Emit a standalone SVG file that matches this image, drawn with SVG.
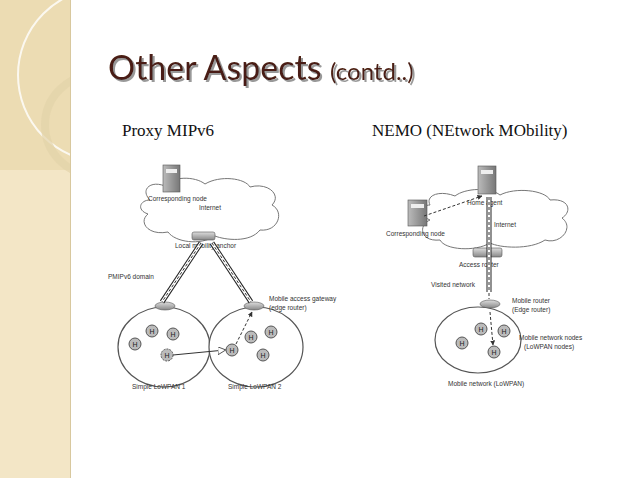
<svg xmlns="http://www.w3.org/2000/svg" width="638" height="478" viewBox="0 0 638 478">
<defs>
<linearGradient id="srv" x1="0" x2="1"><stop offset="0" stop-color="#bbb"/><stop offset="1" stop-color="#777"/></linearGradient>
<linearGradient id="rt" x1="0" y1="0" x2="0" y2="1"><stop offset="0" stop-color="#ddd"/><stop offset="1" stop-color="#888"/></linearGradient>
<marker id="tri" viewBox="0 0 10 10" refX="9" refY="5" markerWidth="8" markerHeight="8" orient="auto"><path d="M0,0L10,5L0,10z" fill="#fff" stroke="#333"/></marker>
<marker id="ah" viewBox="0 0 10 10" refX="9" refY="5" markerWidth="5" markerHeight="5" orient="auto"><path d="M0,0L10,5L0,10z" fill="#333"/></marker>
<clipPath id="strip"><rect width="70" height="478"/></clipPath>
<filter id="sh" x="-5%" y="-20%" width="110%" height="140%"><feDropShadow dx="2" dy="2" stdDeviation="0.6" flood-color="#999"/></filter>
</defs>
<style>
.t{font-family:"Liberation Sans",Arial,sans-serif;font-size:6.5px;fill:#333}
.sub{font-family:"Liberation Serif","Times New Roman",serif;font-size:17px;fill:#111}
.cloud{fill:#fff;stroke:#777;stroke-width:1}
.ell{fill:#fff;stroke:#555;stroke-width:1.2}
.h{fill:#bbb;stroke:#555;stroke-width:1}
.ht{font-family:"Liberation Sans",sans-serif;font-size:7px;fill:#222;text-anchor:middle}
.tun{fill:none;stroke:#222;stroke-width:5}
.tun2{fill:none;stroke:#fff;stroke-width:3}
.tun3{fill:none;stroke:#333;stroke-width:1;stroke-dasharray:3 2}
.dash{fill:none;stroke:#333;stroke-width:1;stroke-dasharray:3 2}
</style>
<rect width="638" height="478" fill="#fff"/>
<rect width="70" height="478" fill="#f3e6c6"/>
<rect width="70" height="170" fill="#ecdcb3"/>
<g clip-path="url(#strip)">
<circle cx="105" cy="75" r="87" fill="none" stroke="#fff" stroke-width="2" opacity="0.8"/>
<circle cx="95" cy="125" r="50" fill="none" stroke="#e3d3aa" stroke-width="8" opacity="0.7"/>
</g>
<line x1="70.5" y1="0" x2="70.5" y2="478" stroke="#d8c89e"/>
<text x="108" y="80" font-family="Lato,'DejaVu Sans',sans-serif" font-size="34" fill="#4a1f12" filter="url(#sh)">Other Aspects <tspan font-size="24">(contd..)</tspan></text>
<text class="sub" x="122" y="136">Proxy MIPv6</text>
<text class="sub" x="372" y="136">NEMO (NEtwork MObility)</text>

<g id="left-cloud"><path class="cloud" d="M150,200 C140,190 150,180 165,186 C172,176 195,176 205,184 C220,175 245,178 250,187 C268,182 282,195 272,205 C285,212 278,232 260,230 C250,243 225,240 215,236 C200,246 175,242 168,232 C148,236 138,222 148,214 C136,210 140,200 150,200 Z"/>
<text class="t" x="148" y="201">Corresponding node</text><text class="t" x="199" y="210">Internet</text></g>
<g id="left-server"><rect x="163" y="165" width="17" height="27" fill="url(#srv)" stroke="#555" stroke-width="0.6"/><rect x="166" y="169" width="11" height="4" fill="#eee"/></g>
<g id="lma"><rect x="192" y="232" width="23" height="8" rx="2" fill="url(#rt)" stroke="#555" stroke-width="0.6"/><text class="t" x="175" y="248">Local mobility anchor</text></g>
<g id="mag1"><ellipse class="ell" cx="164" cy="347" rx="46" ry="40"/><ellipse cx="165" cy="306" rx="10" ry="4" fill="url(#rt)" stroke="#555" stroke-width="0.6"/><text class="t" x="132" y="389">Simple LoWPAN 1</text></g>
<g id="mag2"><ellipse class="ell" cx="256" cy="347" rx="47" ry="40"/><ellipse cx="254" cy="306" rx="10" ry="4" fill="url(#rt)" stroke="#555" stroke-width="0.6"/><text class="t" x="228" y="389">Simple LoWPAN 2</text>
<text class="t" x="269" y="301">Mobile access gateway</text><text class="t" x="269" y="310">(edge router)</text></g>
<text class="t" x="108" y="279">PMIPv6 domain</text>
<g id="hosts-left">
<circle class="h" cx="152" cy="331" r="6"/><text class="ht" x="152" y="333.5">H</text>
<circle class="h" cx="173" cy="334" r="6"/><text class="ht" x="173" y="336.5">H</text>
<circle class="h" cx="135" cy="344" r="6"/><text class="ht" x="135" y="346.5">H</text>
<circle class="h" cx="167" cy="355" r="6" stroke-dasharray="2 1"/><text class="ht" x="167" y="357.5">H</text>
<circle class="h" cx="232" cy="350" r="6"/><text class="ht" x="232" y="352.5">H</text>
<circle class="h" cx="251" cy="337" r="6"/><text class="ht" x="251" y="339.5">H</text>
<circle class="h" cx="271" cy="332" r="6"/><text class="ht" x="271" y="334.5">H</text>
<circle class="h" cx="263" cy="355" r="6"/><text class="ht" x="263" y="357.5">H</text>
</g>

<g id="right-cloud"><path class="cloud" d="M430,205 C425,195 440,190 455,196 C465,188 490,187 500,195 C515,187 545,190 550,200 C570,198 572,212 562,218 C575,228 560,245 545,240 C530,250 500,248 490,243 C475,252 445,250 440,240 C420,242 418,225 430,220 C418,215 420,205 430,205 Z"/>
<text class="t" x="467" y="205">Home agent</text><text class="t" x="494" y="227">Internet</text><text class="t" x="386" y="236">Corresponding node</text></g>
<g id="ha"><rect x="478" y="166" width="18" height="28" fill="url(#srv)" stroke="#555" stroke-width="0.6"/><rect x="481" y="170" width="12" height="4" fill="#eee"/></g>
<g id="cn"><rect x="408" y="200" width="19" height="26" fill="url(#srv)" stroke="#555" stroke-width="0.6"/><rect x="411" y="204" width="13" height="4" fill="#eee"/></g>
<g id="ar"><rect x="473" y="248" width="29" height="9" rx="2" fill="url(#rt)" stroke="#555" stroke-width="0.6"/><text class="t" x="459" y="267">Access   router</text></g>
<text class="t" x="431" y="287">Visited network</text>
<g id="mr"><ellipse class="ell" cx="478" cy="340" rx="43" ry="33"/><ellipse cx="490" cy="304" rx="10" ry="4" fill="url(#rt)" stroke="#555" stroke-width="0.6"/>
<text class="t" x="512" y="303">Mobile router</text><text class="t" x="512" y="312">(Edge router)</text>
<text class="t" x="519" y="340">Mobile network nodes</text><text class="t" x="524" y="349">(LoWPAN nodes)</text>
<text class="t" x="448" y="386">Mobile network (LoWPAN)</text></g>
<g id="hosts-right">
<circle class="h" cx="481" cy="329" r="6"/><text class="ht" x="481" y="331.5">H</text>
<circle class="h" cx="504" cy="331" r="6"/><text class="ht" x="504" y="333.5">H</text>
<circle class="h" cx="462" cy="343" r="6"/><text class="ht" x="462" y="345.5">H</text>
<circle class="h" cx="494" cy="352" r="6"/><text class="ht" x="494" y="354.5">H</text>
</g>

<g id="connectors">
<path class="tun" d="M201,243L162,302"/><path class="tun2" d="M201,243L162,302"/><path class="tun3" d="M201,243L162,302"/>
<path class="tun" d="M212,243L251,302"/><path class="tun2" d="M212,243L251,302"/><path class="tun3" d="M212,243L251,302"/>
<path d="M173,355L225,350" stroke="#333" fill="none" marker-end="url(#tri)"/>
<path class="dash" d="M236,344L252,312" marker-end="url(#ah)"/>
<path class="tun" d="M489,197L489,292"/><path class="tun2" d="M489,197L489,292"/><path class="tun3" d="M489,197L489,292"/>
<path class="dash" d="M424,216L482,196" marker-end="url(#ah)"/>
<path class="dash" d="M489,293L489,299"/>
<path class="dash" d="M490,312L493,345" marker-end="url(#ah)"/>
</g>
</svg>
